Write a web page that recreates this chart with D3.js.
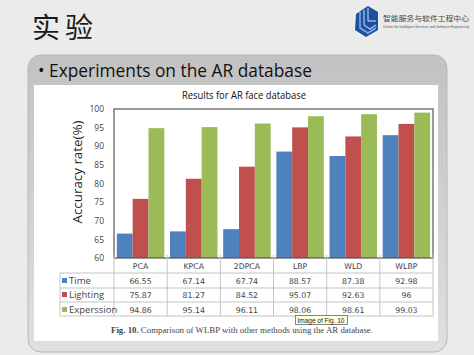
<!DOCTYPE html>
<html><head><meta charset="utf-8">
<script src="https://cdn.jsdelivr.net/npm/d3@7/dist/d3.min.js"></script>
<style>html,body{margin:0;padding:0;background:#ebebeb;}svg{display:block;}</style>
</head><body>
<script>
const categories = ["PCA","KPCA","2DPCA","LBP","WLD","WLBP"];
const seriesNames = ["Time","Lighting","Experssion"];
const timeVals = [66.55,67.14,67.74,88.57,87.38,92.98];
const lightingVals = [75.87,81.27,84.52,95.07,92.63,96];
const expressionVals = [94.86,95.14,96.11,98.06,98.61,99.03];
const timeLabels = ["66.55","67.14","67.74","88.57","87.38","92.98"];
const lightingLabels = ["75.87","81.27","84.52","95.07","92.63","96"];
const expressionLabels = ["94.86","95.14","96.11","98.06","98.61","99.03"];
const yTicks = [60,65,70,75,80,85,90,95,100];
const colors = ["#4f81bd","#c0504d","#9bbb59"];

const W=474,H=355;
const svg=d3.select("body").append("svg").attr("width",W).attr("height",H);
const defs=svg.append("defs");
const g1=defs.append("linearGradient").attr("id","frame").attr("x1",0).attr("y1",0).attr("x2",0).attr("y2",1);
g1.append("stop").attr("offset","0%").attr("stop-color","#c2c2c2");
g1.append("stop").attr("offset","40%").attr("stop-color","#cdcdcd");
g1.append("stop").attr("offset","100%").attr("stop-color","#e0e0e0");

svg.append("rect").attr("width",W).attr("height",H).attr("fill","#ebebeb");

// Slide title
svg.append("text").attr("x",32).attr("y",38).attr("font-family","Noto Sans CJK SC")
  .attr("font-size",28).attr("fill","#1a1a1a").attr("letter-spacing",5).text("实验");

// Logo
const logo=svg.append("g");
logo.append("path").attr("d","M356,14 L368,6 L378,12 L378,30 L366,37 L355,30 Z").attr("fill","#1f4fa0");
logo.append("path").attr("d","M360,12 L360,28 L368,33 L376,28").attr("fill","none").attr("stroke","#7fb0e8").attr("stroke-width",1.5);
logo.append("path").attr("d","M364,10 L364,25 L370,29 L376,25").attr("fill","none").attr("stroke","#a8cdf2").attr("stroke-width",1.2);
logo.append("path").attr("d","M368,8 L368,21 L376,21").attr("fill","none").attr("stroke","#d0e6fa").attr("stroke-width",1);
logo.append("text").attr("x",383).attr("y",21).attr("font-family","Noto Sans CJK SC").attr("font-size",6.5)
  .attr("fill","#444").attr("textLength",86).attr("lengthAdjust","spacingAndGlyphs").text("智能服务与软件工程中心");
logo.append("text").attr("x",383).attr("y",28).attr("font-family","Liberation Sans").attr("font-size",3)
  .attr("fill","#555").attr("textLength",86).attr("lengthAdjust","spacingAndGlyphs").text("Center for Intelligent Services and Software Engineering");

// Content frame
svg.append("rect").attr("x",28).attr("y",55).attr("width",419).attr("height",297).attr("rx",13)
  .attr("fill","url(#frame)").attr("stroke","#b8b8b8").attr("stroke-width",1);
svg.append("text").attr("x",38).attr("y",77).attr("font-family","Open Sans").attr("font-size",19)
  .attr("fill","#111").attr("textLength",274).attr("lengthAdjust","spacingAndGlyphs").text("• Experiments on the AR database");
svg.append("rect").attr("x",34).attr("y",85).attr("width",404).attr("height",256).attr("fill","#ffffff");

// Chart
const plot={l:114,r:433,t:109,b:258};
const x0=d3.scaleBand().domain(categories).range([plot.l,plot.r]).paddingInner(0).paddingOuter(0);
const x1=d3.scaleBand().domain(seriesNames).range([0,x0.bandwidth()]).paddingInner(0).paddingOuter(0.18);
const y=d3.scaleLinear().domain([60,100]).range([plot.b,plot.t]);

svg.append("text").attr("x",244).attr("y",99).attr("text-anchor","middle").attr("font-family","Open Sans")
  .attr("font-size",11.5).attr("fill","#111").attr("textLength",124).attr("lengthAdjust","spacingAndGlyphs").text("Results for AR face database");

const series=[timeVals,lightingVals,expressionVals];
const barG=svg.append("g");
series.forEach((vals,si)=>{
  barG.selectAll(null).data(categories).enter().append("rect")
    .attr("x",d=>x0(d)+x1(seriesNames[si]))
    .attr("y",(d,i)=>y(vals[i]))
    .attr("width",x1.bandwidth())
    .attr("height",(d,i)=>y(60)-y(vals[i]))
    .attr("fill",colors[si]);
});

// plot border
svg.append("rect").attr("x",plot.l).attr("y",plot.t).attr("width",plot.r-plot.l).attr("height",plot.b-plot.t)
  .attr("fill","none").attr("stroke","#555").attr("stroke-width",1.2);

// y axis
const yAxis=d3.axisLeft(y).tickValues(yTicks).tickSize(0).tickPadding(10);
const ya=svg.append("g").attr("transform",`translate(${plot.l},0)`).call(yAxis);
ya.select(".domain").remove();
ya.selectAll("text").attr("font-family","Open Sans").attr("font-size",8.5).attr("fill","#444");

svg.append("text").attr("transform","translate(82,172) rotate(-90)").attr("text-anchor","middle")
  .attr("font-family","Open Sans").attr("font-size",12.5).attr("fill","#222")
  .attr("textLength",103).attr("lengthAdjust","spacingAndGlyphs").text("Accuracy rate(%)");

// Data table
const rowY=[258,273,288,302,316];
const tbl=svg.append("g").attr("stroke","#c4c4c4").attr("stroke-width",1);
tbl.append("line").attr("x1",plot.l).attr("x2",plot.r).attr("y1",rowY[1]).attr("y2",rowY[1]);
[2,3,4].forEach(i=>tbl.append("line").attr("x1",60).attr("x2",plot.r).attr("y1",rowY[i]).attr("y2",rowY[i]));
tbl.append("line").attr("x1",60).attr("x2",plot.l).attr("y1",rowY[1]).attr("y2",rowY[1]);
const bounds=categories.map(c=>x0(c)).concat([plot.r]);
bounds.forEach(bx=>tbl.append("line").attr("x1",bx).attr("x2",bx).attr("y1",plot.b-3).attr("y2",rowY[4]));
tbl.append("line").attr("x1",60).attr("x2",60).attr("y1",rowY[1]).attr("y2",rowY[4]);

const txt=svg.append("g").attr("font-family","DejaVu Sans").attr("font-size",7.8).attr("fill","#444").attr("text-anchor","middle");
txt.selectAll(null).data(categories).enter().append("text")
  .attr("x",d=>x0(d)+x0.bandwidth()/2).attr("y",269).text(d=>d);
const labelRows=[timeLabels,lightingLabels,expressionLabels];
const rowText=[284,298,313];
labelRows.forEach((labs,ri)=>{
  txt.selectAll(null).data(labs).enter().append("text")
    .attr("x",(d,i)=>x0(categories[i])+x0.bandwidth()/2).attr("y",rowText[ri]).text(d=>d);
});
seriesNames.forEach((s,i)=>{
  svg.append("rect").attr("x",62).attr("y",rowText[i]-6).attr("width",5).attr("height",5).attr("fill",colors[i]);
  svg.append("text").attr("x",69).attr("y",rowText[i]).attr("font-family","Open Sans").attr("font-size",9.5)
    .attr("fill","#444").text(s);
});

// tooltip
svg.append("rect").attr("x",295.5).attr("y",315.5).attr("width",52).attr("height",9).attr("fill","#ffffe1").attr("stroke","#666").attr("stroke-width",0.8);
svg.append("text").attr("x",321).attr("y",322.5).attr("text-anchor","middle").attr("font-family","Liberation Sans")
  .attr("font-size",6.5).attr("fill","#222").text("Image of Fig. 10");

// caption
const cap=svg.append("text").attr("x",242).attr("y",333).attr("text-anchor","middle").attr("font-family","Liberation Serif")
  .attr("font-size",7.5).attr("fill","#444").attr("textLength",262).attr("lengthAdjust","spacingAndGlyphs");
cap.append("tspan").attr("font-weight","bold").text("Fig. 10.");
cap.append("tspan").text("  Comparison of WLBP with other methods using the AR database.");
</script>
</body></html>
